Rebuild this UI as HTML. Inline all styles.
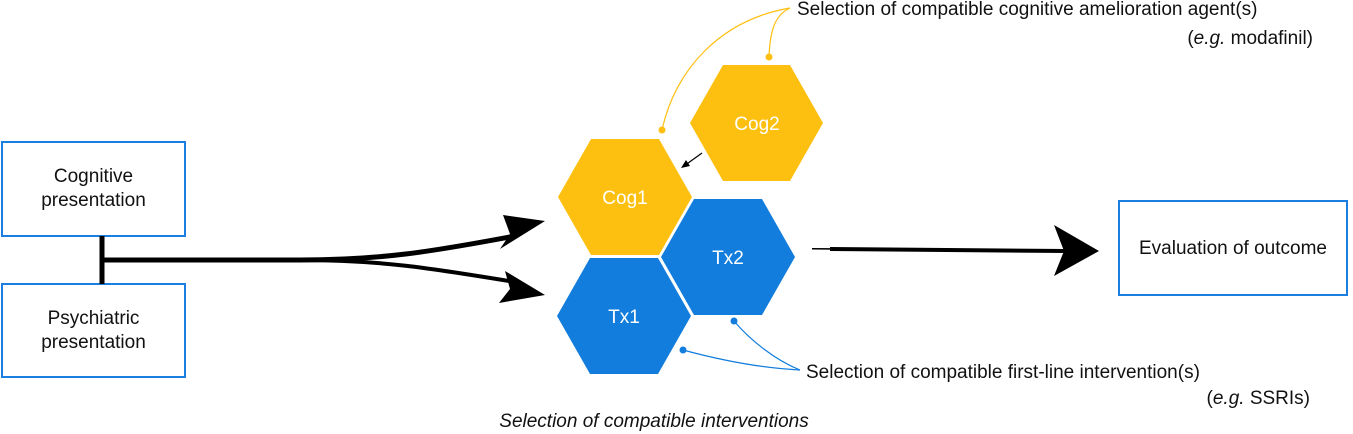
<!DOCTYPE html>
<html><head><meta charset="utf-8"><style>
html,body{margin:0;padding:0;background:#fff;}
svg{display:block;font-family:"Liberation Sans",Arial,sans-serif;}
</style></head><body>
<svg width="1353" height="434" viewBox="0 0 1353 434" xmlns="http://www.w3.org/2000/svg">
<!-- left boxes -->
<rect x="2" y="142" width="183" height="94" fill="#fff" stroke="#1a7fe0" stroke-width="2"/>
<rect x="2" y="284" width="183" height="93" fill="#fff" stroke="#1a7fe0" stroke-width="2"/>
<text x="93.5" y="182" font-size="19" text-anchor="middle" fill="#111">Cognitive</text>
<text x="93.5" y="206" font-size="19" text-anchor="middle" fill="#111">presentation</text>
<text x="93.5" y="324" font-size="19" text-anchor="middle" fill="#111">Psychiatric</text>
<text x="93.5" y="348" font-size="19" text-anchor="middle" fill="#111">presentation</text>
<line x1="102" y1="236" x2="102" y2="284" stroke="#000" stroke-width="5"/>
<path d="M102 260 L300 260 C380 260 430 252 515 236" fill="none" stroke="#000" stroke-width="5"/>
<path d="M300 260 C380 260 430 268 515 282" fill="none" stroke="#000" stroke-width="4"/>
<polygon points="545,221 503,215 510,234 500,249" fill="#000"/>
<polygon points="545,295 505,271 510,289 499,303" fill="#000"/>
<!-- hexagons -->
<polygon points="690,123 723,65 790,65 823,123 790,181 723,181" fill="#fdc010"/>
<polygon points="558,197 591,139 659,139 692,197 659,255 591,255" fill="#fdc010"/>
<polygon points="661,257 694,199 762,199 795,257 762,315 694,315" fill="#127ddc"/>
<polygon points="557,316 590,258 658,258 691,316 658,374 590,374" fill="#127ddc"/>
<text x="757" y="130" font-size="19" text-anchor="middle" fill="#fff">Cog2</text>
<text x="625" y="204" font-size="19" text-anchor="middle" fill="#fff">Cog1</text>
<text x="728" y="264" font-size="19" text-anchor="middle" fill="#fff">Tx2</text>
<text x="624" y="323" font-size="19" text-anchor="middle" fill="#fff">Tx1</text>
<!-- small arrow -->
<line x1="702" y1="153" x2="684" y2="166" stroke="#000" stroke-width="1.2"/>
<polygon points="681,168 686,160 690,166" fill="#000"/>
<!-- yellow leaders -->
<path d="M662 130 C675 70 720 20 790 8" fill="none" stroke="#fdc010" stroke-width="1.2"/>
<path d="M769 57 C770 30 775 15 790 8" fill="none" stroke="#fdc010" stroke-width="1.2"/>
<circle cx="662" cy="130" r="3.5" fill="#fdc010"/>
<circle cx="769" cy="57" r="3.5" fill="#fdc010"/>
<text x="797" y="15" font-size="19" fill="#111">Selection of compatible cognitive amelioration agent(s)</text>
<text x="1313" y="44" font-size="19" text-anchor="end" fill="#111">(<tspan font-style="italic">e.g.</tspan> modafinil)</text>
<!-- blue leaders -->
<path d="M734 321 C750 340 775 360 800 370" fill="none" stroke="#127ddc" stroke-width="1.2"/>
<path d="M683 350 C720 360 760 368 800 370" fill="none" stroke="#127ddc" stroke-width="1.2"/>
<circle cx="734" cy="321" r="3.5" fill="#127ddc"/>
<circle cx="683" cy="350" r="3.5" fill="#127ddc"/>
<text x="806" y="378" font-size="19" fill="#111">Selection of compatible first-line intervention(s)</text>
<text x="1310" y="404" font-size="19" text-anchor="end" fill="#111">(<tspan font-style="italic">e.g.</tspan> SSRIs)</text>
<!-- main arrow -->
<path d="M812 248 L1065 249.5 L1065 252.5 L812 249.5 Z" fill="#000"/>
<line x1="830" y1="249" x2="1065" y2="251" stroke="#000" stroke-width="4"/>
<polygon points="1099,251 1054,225 1064,251 1054,276" fill="#000"/>
<rect x="1119" y="201" width="228" height="94" fill="#fff" stroke="#1a7fe0" stroke-width="2"/>
<text x="1233" y="254" font-size="19" text-anchor="middle" fill="#111">Evaluation of outcome</text>
<text x="654" y="427" font-size="19" font-style="italic" text-anchor="middle" fill="#111">Selection of compatible interventions</text>
</svg>
</body></html>
